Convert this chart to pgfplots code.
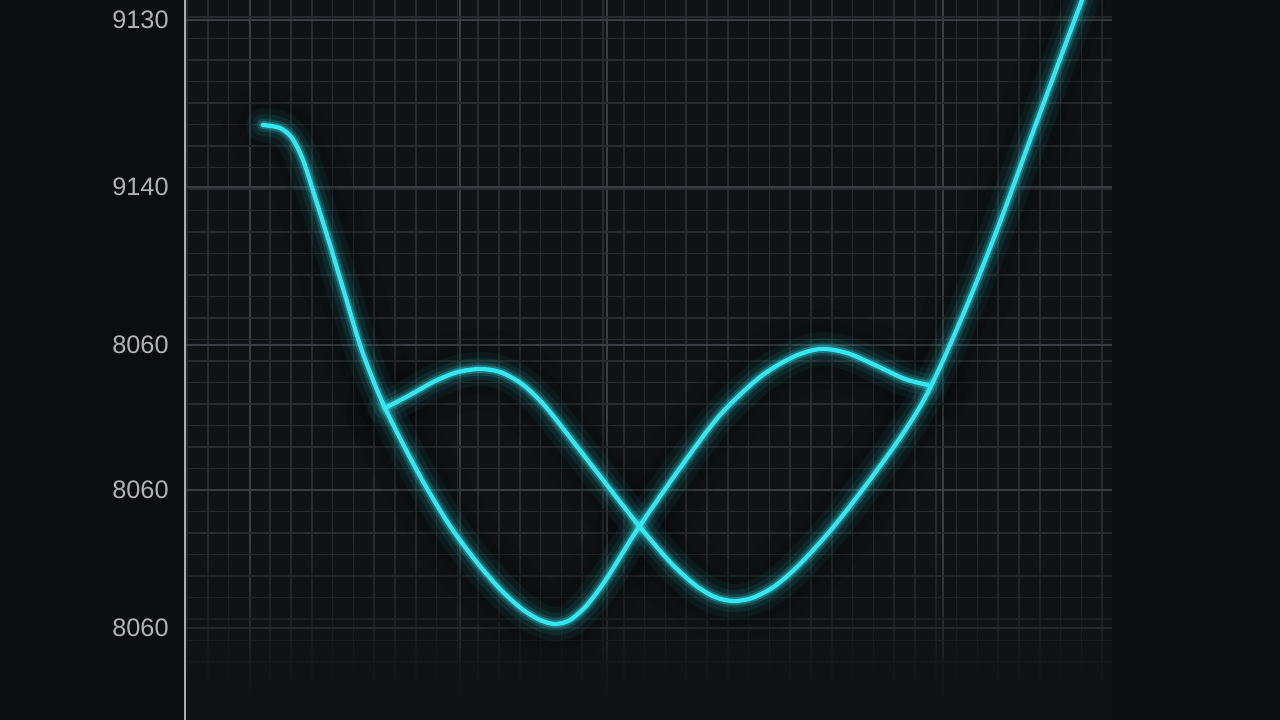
\documentclass[border=0pt]{standalone}
\usepackage{fontspec}
\setmainfont{Liberation Sans}
\usepackage{pgfplots}
\pgfplotsset{compat=1.18}
\usepackage{pgfplotstable}
\usetikzlibrary{fadings}

\definecolor{bg}{HTML}{0B0E10}
\definecolor{panel}{HTML}{0F1315}
\definecolor{gridminor}{HTML}{262B2F}
\definecolor{gridmajor}{HTML}{383E43}
\definecolor{neon}{HTML}{33E8F2}
\definecolor{ticklab}{HTML}{AEB3B6}
\definecolor{axisgray}{HTML}{A9AEB1}

% curves (x in px from left, y in px from top)
\pgfplotstableread{
x y
263 125
280 128
292 138
303 160
315 197
330 245
345 295
360 345
373 380
385 408
405 448
425 485
450 526
475 560
500 589
522 609
540 620
555 624
570 620
587 605
607 578
637 530
680 468
720 415
760 377
793 357
820 349
847 353
877 366
905 379
928 385
}\lineA

\pgfplotstableread{
x y
385 408
410 395
435 381
458 372
480 369
500 372
522 384
545 406
575 444
610 489
640 527
670 562
695 585
715 597
733 601
752 598
775 586
800 564
830 531
860 493
893 448
915 415
928 392
945 356
970 298
1000 222
1030 140
1057 67
1082 0
}\lineB

\pgfplotsset{
  shade1/.style={black, line width=8mm, opacity=0.08},
  shade2/.style={black, line width=5mm, opacity=0.1},
  glow1/.style={neon, line width=3.4mm, opacity=0.05},
  glow2/.style={neon, line width=2.2mm, opacity=0.08},
  glow3/.style={neon, line width=1.3mm, opacity=0.15},
  glow4/.style={neon, line width=0.8mm, opacity=0.3},
  core/.style={neon, line width=0.42mm},
}

\begin{document}
\begin{tikzpicture}
\useasboundingbox (0,0) rectangle (128mm,72mm);
\fill[bg] (0,0) rectangle (128mm,72mm);
\begin{axis}[
  at={(18.5mm,0)}, anchor=south west,
  scale only axis, width=92.7mm, height=72mm,
  xmin=185, xmax=1112, ymin=0, ymax=720,
  y dir=reverse,
  axis background/.style={fill=panel},
  axis line style={draw=none},
  tick style={draw=none},
  major tick length=0pt,
  xtick={250,460,607,943}, xticklabels={},
  minor xtick={187,207.8,...,1112},
  ytick={20,187,345,490,628},
  yticklabels={9130,9140,8060,8060,8060},
  minor ytick={17,38.5,...,720},
  grid=both,
  minor grid style={gridminor, line width=0.15mm},
  major grid style={gridmajor, line width=0.22mm},
  yticklabel style={font=\fontsize{7.2}{8}\selectfont, text=ticklab, xshift=-0.4mm},
  every axis plot/.append style={smooth, line cap=round, line join=round, no markers},
]
\fill[panel, path fading=north] (axis cs:185,540) rectangle (axis cs:1112,720);
\fill[panel, path fading=north] (axis cs:185,640) rectangle (axis cs:1112,720);
\addplot[shade1] table {\lineA};
\addplot[shade1] table {\lineB};
\addplot[shade2] table {\lineA};
\addplot[shade2] table {\lineB};
\addplot[glow1] table {\lineA};
\addplot[glow1] table {\lineB};
\addplot[glow2] table {\lineA};
\addplot[glow2] table {\lineB};
\addplot[glow3] table {\lineA};
\addplot[glow3] table {\lineB};
\addplot[glow4] table {\lineA};
\addplot[glow4] table {\lineB};
\addplot[core] table {\lineA};
\addplot[core] table {\lineB};
\end{axis}
\draw[axisgray, line width=0.2mm] (18.5mm,0) -- (18.5mm,72mm);
\end{tikzpicture}
\end{document}
